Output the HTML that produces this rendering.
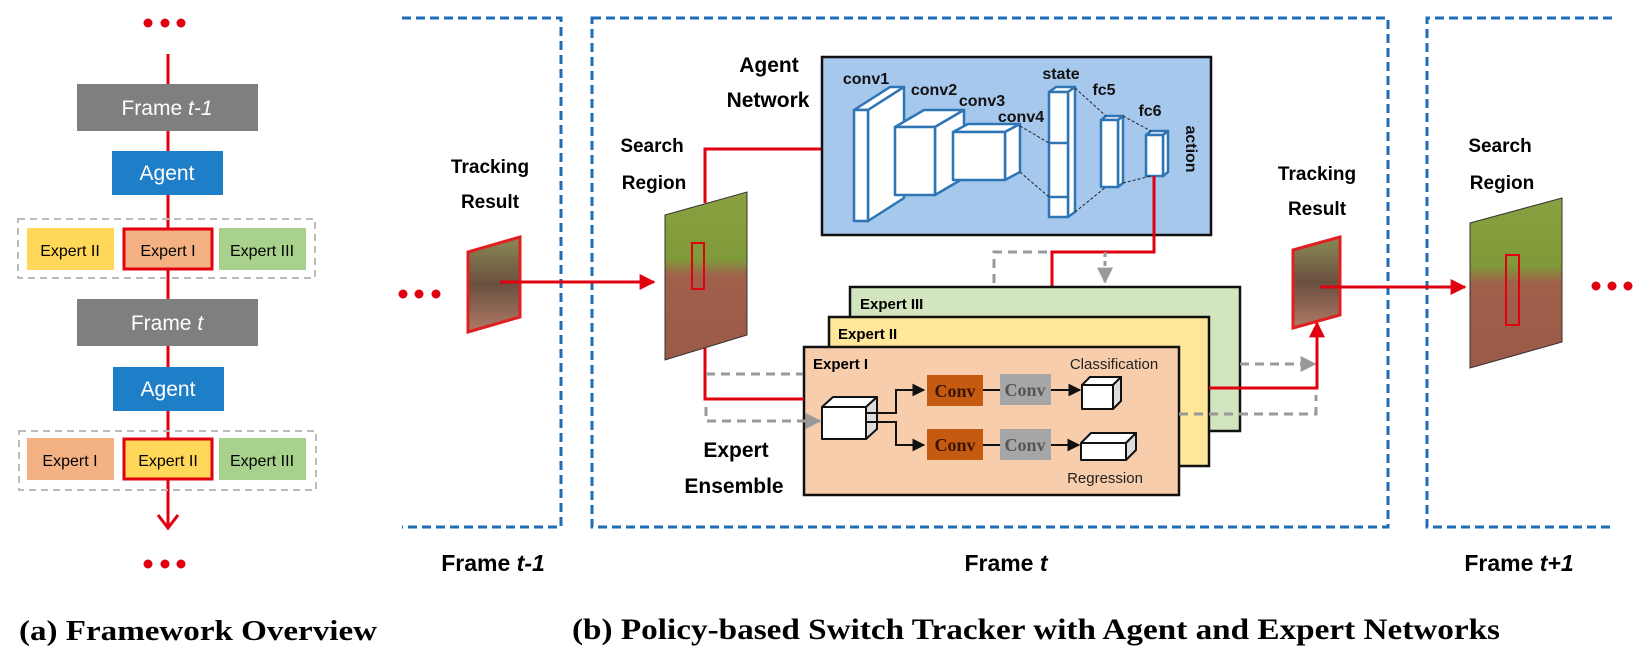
<!DOCTYPE html>
<html><head><meta charset="utf-8"><style>
html,body{margin:0;padding:0;background:#fff;}
svg{display:block;}
.s{font-family:"Liberation Sans",sans-serif;}
.b{font-family:"Liberation Sans",sans-serif;font-weight:bold;}
.t{font-family:"Liberation Serif",serif;font-weight:bold;}
</style></head><body>
<svg width="1648" height="654" viewBox="0 0 1648 654" xmlns="http://www.w3.org/2000/svg">
<defs>
<marker id="ar" markerWidth="8" markerHeight="8" refX="6" refY="4" orient="auto" markerUnits="userSpaceOnUse"><path d="M0,0 L8,4 L0,8 z" fill="#e00010"/></marker>
<marker id="ar2" viewBox="0 0 10 10" markerWidth="16" markerHeight="16" refX="9" refY="5" orient="auto" markerUnits="userSpaceOnUse"><path d="M0,0 L10,5 L0,10 z" fill="#e00010"/></marker>
<marker id="ag" viewBox="0 0 10 10" markerWidth="16" markerHeight="16" refX="9" refY="5" orient="auto" markerUnits="userSpaceOnUse"><path d="M0,0 L10,5 L0,10 z" fill="#999"/></marker>
<marker id="ak" viewBox="0 0 10 10" markerWidth="13" markerHeight="13" refX="9" refY="5" orient="auto" markerUnits="userSpaceOnUse"><path d="M0,0 L10,5 L0,10 z" fill="#111"/></marker>
<linearGradient id="img" x1="0" y1="0" x2="0" y2="1">
<stop offset="0" stop-color="#8aa040"/><stop offset="0.4" stop-color="#7f9a3a"/><stop offset="0.5" stop-color="#a0604a"/><stop offset="1" stop-color="#9a5a48"/></linearGradient>
<linearGradient id="tr" x1="0" y1="0" x2="0" y2="1">
<stop offset="0" stop-color="#8a8a55"/><stop offset="0.5" stop-color="#6a5040"/><stop offset="1" stop-color="#b07a66"/></linearGradient>
</defs>

<!-- ===== Left panel (a) ===== -->
<g fill="#e00010"><circle cx="148" cy="23" r="4.5"/><circle cx="165" cy="23" r="4.5"/><circle cx="181" cy="23" r="4.5"/>
<circle cx="148" cy="564" r="4.5"/><circle cx="165" cy="564" r="4.5"/><circle cx="181" cy="564" r="4.5"/></g>
<line x1="168" y1="54" x2="168" y2="528" stroke="#e00010" stroke-width="3"/>
<polyline points="158,515 168,528 178,515" fill="none" stroke="#e00010" stroke-width="3"/>
<rect x="77" y="84" width="181" height="47" fill="#7f7f7f"/>
<text x="167" y="115" text-anchor="middle" class="s" font-size="21" fill="#fff">Frame <tspan font-style="italic">t-1</tspan></text>
<rect x="112" y="151" width="111" height="44" fill="#1f7ec8"/>
<text x="167" y="180" text-anchor="middle" class="s" font-size="21" fill="#fff">Agent</text>
<rect x="18" y="219" width="297" height="59" fill="none" stroke="#bbb" stroke-width="2" stroke-dasharray="7 5"/>
<rect x="27" y="228" width="87" height="42" fill="#ffd85a"/>
<text x="70" y="256" text-anchor="middle" class="s" font-size="16">Expert II</text>
<rect x="124" y="229" width="88" height="40" fill="#f4b183" stroke="#e00010" stroke-width="3"/>
<text x="168" y="256" text-anchor="middle" class="s" font-size="16">Expert I</text>
<rect x="219" y="228" width="87" height="42" fill="#a9d18e"/>
<text x="262" y="256" text-anchor="middle" class="s" font-size="16">Expert III</text>
<rect x="77" y="299" width="181" height="47" fill="#7f7f7f"/>
<text x="167" y="330" text-anchor="middle" class="s" font-size="21" fill="#fff">Frame <tspan font-style="italic">t</tspan></text>
<rect x="113" y="367" width="111" height="44" fill="#1f7ec8"/>
<text x="168" y="396" text-anchor="middle" class="s" font-size="21" fill="#fff">Agent</text>
<rect x="19" y="431" width="297" height="59" fill="none" stroke="#bbb" stroke-width="2" stroke-dasharray="7 5"/>
<rect x="27" y="438" width="87" height="42" fill="#f4b183"/>
<text x="70" y="466" text-anchor="middle" class="s" font-size="16">Expert I</text>
<rect x="124" y="439" width="88" height="40" fill="#ffd85a" stroke="#e00010" stroke-width="3"/>
<text x="168" y="466" text-anchor="middle" class="s" font-size="16">Expert II</text>
<rect x="219" y="438" width="87" height="42" fill="#a9d18e"/>
<text x="262" y="466" text-anchor="middle" class="s" font-size="16">Expert III</text>
<text x="19" y="640" class="t" font-size="29" textLength="358" lengthAdjust="spacingAndGlyphs">(a) Framework Overview</text>

<!-- ===== Frames dashed ===== -->
<g fill="none" stroke="#1f6db5" stroke-width="3" stroke-dasharray="9 5">
<polyline points="402,18 561,18 561,527 402,527"/>
<rect x="592" y="18" width="796" height="509"/>
<polyline points="1612,18 1427,18 1427,527 1612,527"/>
</g>
<g class="b" font-size="23" text-anchor="middle">
<text x="493" y="571">Frame <tspan font-style="italic">t-1</tspan></text>
<text x="1006" y="571">Frame <tspan font-style="italic">t</tspan></text>
<text x="1519" y="571">Frame <tspan font-style="italic">t+1</tspan></text>
</g>
<text x="572" y="639" class="t" font-size="30" textLength="928" lengthAdjust="spacingAndGlyphs">(b) Policy-based Switch Tracker with Agent and Expert Networks</text>

<!-- frame t-1 -->
<g fill="#e00010"><circle cx="403" cy="294" r="4.5"/><circle cx="419" cy="294" r="4.5"/><circle cx="436" cy="294" r="4.5"/>
<circle cx="1596" cy="286" r="4.5"/><circle cx="1612" cy="286" r="4.5"/><circle cx="1628" cy="286" r="4.5"/></g>
<g class="b" font-size="19" text-anchor="middle">
<text x="490" y="173">Tracking</text><text x="490" y="208">Result</text>
<text x="652" y="152">Search</text><text x="654" y="189">Region</text>
<text x="1317" y="180">Tracking</text><text x="1317" y="215">Result</text>
<text x="1500" y="152">Search</text><text x="1502" y="189">Region</text>
<text x="769" y="72" font-size="21">Agent</text><text x="768" y="107" font-size="21">Network</text>
<text x="736" y="457" font-size="21">Expert</text><text x="734" y="493" font-size="21">Ensemble</text>
</g>
<polygon points="468,252 520,237 520,317 468,332" fill="url(#tr)" stroke="#e02020" stroke-width="3"/>
<line x1="500" y1="282" x2="654" y2="282" stroke="#e00010" stroke-width="3" marker-end="url(#ar2)"/>

<!-- search image -->
<polygon points="665,215 747,192 747,335 665,360" fill="url(#img)" stroke="#333" stroke-width="1"/>
<rect x="692" y="243" width="12" height="46" fill="none" stroke="#e00010" stroke-width="2"/>
<polygon points="1470,223 1562,198 1562,342 1470,368" fill="url(#img)" stroke="#333" stroke-width="1"/>
<rect x="1506" y="255" width="13" height="70" fill="none" stroke="#e00010" stroke-width="2"/>
<polygon points="1293,250 1340,237 1340,315 1293,328" fill="url(#tr)" stroke="#e02020" stroke-width="3"/>
<line x1="1320" y1="287" x2="1465" y2="287" stroke="#e00010" stroke-width="3" marker-end="url(#ar2)"/>

<!-- arrow to agent -->
<polyline points="705,203 705,149 846,149" fill="none" stroke="#e00010" stroke-width="3" marker-end="url(#ar2)"/>

<!-- Agent network -->
<rect x="822" y="57" width="389" height="178" fill="#a6c8ec" stroke="#111" stroke-width="2.5"/>
<g fill="#fff" stroke="#2e75b6" stroke-width="2.5" stroke-linejoin="round">
<polygon points="854,110 890,87 904,87 868,110"/>
<polygon points="868,110 904,87 904,198 868,221"/>
<rect x="854" y="110" width="14" height="111"/>
<polygon points="895,127 924,110 964,110 935,127"/>
<polygon points="935,127 964,110 964,178 935,195"/>
<rect x="895" y="127" width="40" height="68"/>
<polygon points="953,132 968,124 1020,124 1005,132"/>
<polygon points="1005,132 1020,124 1020,172 1005,180"/>
<rect x="953" y="132" width="52" height="48"/>
<polygon points="1049,92 1056,87 1075,87 1068,92"/>
<polygon points="1068,92 1075,87 1075,212 1068,217"/>
<rect x="1049" y="92" width="19" height="125"/>
<line x1="1049" y1="143" x2="1068" y2="143"/><line x1="1049" y1="197" x2="1068" y2="197"/>
<polygon points="1101,120 1106,116 1123,116 1118,120"/>
<polygon points="1118,120 1123,116 1123,183 1118,187"/>
<rect x="1101" y="120" width="17" height="67"/>
<polygon points="1146,135 1151,131 1168,131 1163,135"/>
<polygon points="1163,135 1168,131 1168,172 1163,176"/>
<rect x="1146" y="135" width="17" height="41"/>
</g>
<g stroke="#222" stroke-width="1" stroke-dasharray="3 2" fill="none">
<line x1="1020" y1="126" x2="1049" y2="143"/><line x1="1020" y1="172" x2="1049" y2="197"/>
<line x1="1075" y1="88" x2="1106" y2="116"/><line x1="1075" y1="212" x2="1106" y2="187"/>
<line x1="1123" y1="116" x2="1151" y2="131"/><line x1="1123" y1="183" x2="1151" y2="176"/>
</g>
<g class="b" font-size="16" fill="#111" text-anchor="middle">
<text x="866" y="84">conv1</text><text x="934" y="95">conv2</text><text x="982" y="106">conv3</text>
<text x="1021" y="122">conv4</text><text x="1061" y="79">state</text><text x="1104" y="95">fc5</text><text x="1150" y="116">fc6</text>
<text transform="translate(1186,149) rotate(90)">action</text>
</g>

<!-- connectors agent -> experts -->
<polyline points="1154,176 1154,252 1052,252 1052,313" fill="none" stroke="#e00010" stroke-width="3" marker-end="url(#ar2)"/>
<polyline points="1047,252 994,252 994,338" fill="none" stroke="#999" stroke-width="3" stroke-dasharray="9 6" marker-end="url(#ag)"/>
<line x1="1105" y1="252" x2="1105" y2="282" stroke="#999" stroke-width="3" stroke-dasharray="5 4" marker-end="url(#ag)"/>

<!-- experts -->
<rect x="850" y="287" width="390" height="144" fill="#d3e5bf" stroke="#111" stroke-width="2.5"/>
<text x="860" y="309" class="b" font-size="15">Expert III</text>
<rect x="829" y="317" width="380" height="149" fill="#ffe699" stroke="#111" stroke-width="2.5"/>
<text x="838" y="339" class="b" font-size="15">Expert II</text>
<rect x="804" y="347" width="375" height="148" fill="#f8cdac" stroke="#111" stroke-width="2.5"/>
<text x="813" y="369" class="b" font-size="15">Expert I</text>
<g class="s" font-size="15" fill="#222" text-anchor="middle"><text x="1114" y="369">Classification</text><text x="1105" y="483">Regression</text></g>

<!-- inside Expert I -->
<g fill="#fff" stroke="#111" stroke-width="2" stroke-linejoin="round">
<polygon points="822,407 833,397 877,397 866,407"/><polygon points="866,407 877,397 877,429 866,439" fill="#ddd"/><rect x="822" y="407" width="44" height="32"/>
<polygon points="1082,385 1090,377 1121,377 1113,385"/><polygon points="1113,385 1121,377 1121,401 1113,409" fill="#ddd"/><rect x="1082" y="385" width="31" height="24"/>
<polygon points="1081,443 1091,433 1136,433 1126,443"/><polygon points="1126,443 1136,433 1136,450 1126,460" fill="#ddd"/><rect x="1081" y="443" width="45" height="17"/>
</g>
<polyline points="866,413 896,413 896,390 924,390" fill="none" stroke="#111" stroke-width="2" marker-end="url(#ak)"/>
<polyline points="866,422 896,422 896,445 924,445" fill="none" stroke="#111" stroke-width="2" marker-end="url(#ak)"/>
<rect x="927" y="375" width="56" height="31" fill="#c55a11"/><rect x="927" y="429" width="56" height="31" fill="#c55a11"/>
<rect x="1000" y="374" width="51" height="31" fill="#a6a6a6"/><rect x="1000" y="429" width="51" height="31" fill="#a6a6a6"/>
<line x1="983" y1="390" x2="1000" y2="390" stroke="#111" stroke-width="2"/><line x1="983" y1="445" x2="1000" y2="445" stroke="#111" stroke-width="2"/>
<line x1="1051" y1="390" x2="1080" y2="390" stroke="#111" stroke-width="2" marker-end="url(#ak)"/>
<line x1="1051" y1="445" x2="1079" y2="445" stroke="#111" stroke-width="2" marker-end="url(#ak)"/>
<g class="t" font-size="18" text-anchor="middle"><text x="955" y="397" fill="#3a1500">Conv</text><text x="955" y="451" fill="#3a1500">Conv</text>
<text x="1025" y="396" fill="#555">Conv</text><text x="1025" y="451" fill="#555">Conv</text></g>

<!-- left connectors into expert -->
<polyline points="705,348 705,399 804,399" fill="none" stroke="#e00010" stroke-width="3"/>
<line x1="706" y1="374" x2="803" y2="374" stroke="#999" stroke-width="3" stroke-dasharray="9 6"/>
<polyline points="706,407 706,421 820,421" fill="none" stroke="#999" stroke-width="3" stroke-dasharray="9 6" marker-end="url(#ag)"/>

<!-- right connectors -->
<line x1="1240" y1="364" x2="1315" y2="364" stroke="#999" stroke-width="3" stroke-dasharray="9 6" marker-end="url(#ag)"/>
<polyline points="1209,388 1317,388 1317,323" fill="none" stroke="#e00010" stroke-width="3" marker-end="url(#ar2)"/>
<polyline points="1179,414 1316,414 1316,395" fill="none" stroke="#999" stroke-width="3" stroke-dasharray="9 6"/>
</svg>
</body></html>
